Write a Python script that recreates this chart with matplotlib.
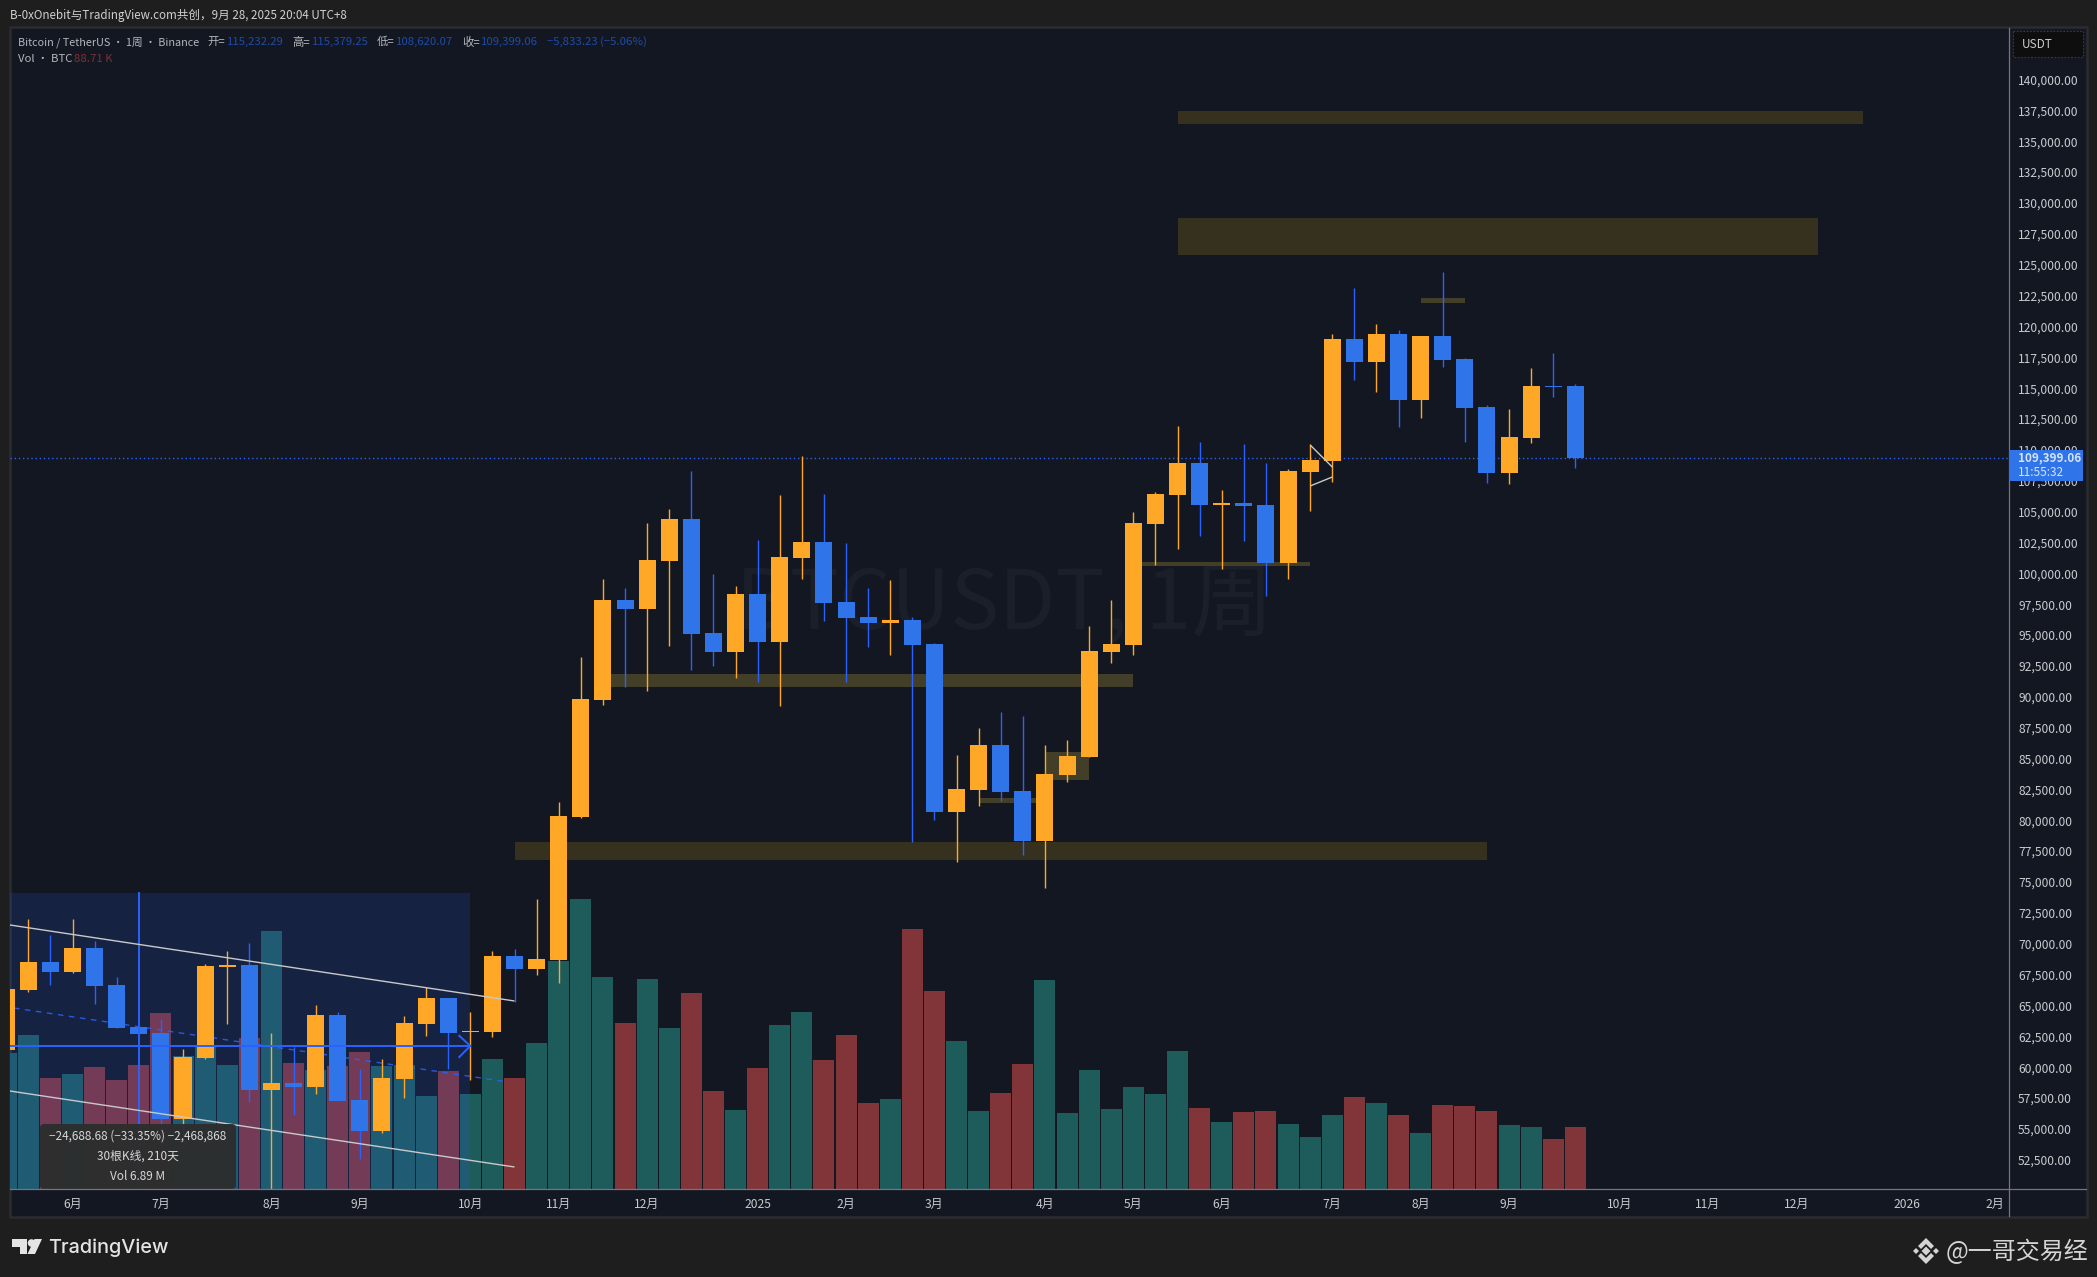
import matplotlib
matplotlib.use("Agg")
import matplotlib.pyplot as plt
from matplotlib.lines import Line2D
from matplotlib.patches import Rectangle, Polygon, Circle, FancyBboxPatch
from matplotlib.transforms import Affine2D, ScaledTranslation

FONT = ['Noto Sans CJK SC', 'DejaVu Sans']
plt.rcParams['font.family'] = FONT

# ---------- data ----------
opens = [61470, 66331, 68599, 67789, 69733, 66736, 63334, 62848, 55882, 60823, 68194, 68356,
         58231, 58798, 58474, 64306, 57421, 54910, 59122, 63577, 65683, 62929, 62929, 69085,
         68032, 68761, 80344, 89821, 97921, 97192, 101080, 104482, 95248, 93709, 98407, 94519,
         101323, 102619, 97759, 96544, 96058, 96301, 94357, 80749, 82531, 86176, 82450, 78400,
         83746, 85204, 93709, 94276, 104077, 106426, 109018, 105616, 105778, 105616, 100918,
         108289, 109180, 119062, 117199, 119467, 114121, 119305, 117442, 113554, 108208,
         111043, 115255, 115232.29]
highs = [66500, 72082, 70786, 72082, 70300, 67384, 63415, 63982, 61552, 68437, 69490, 70138,
         62848, 61714, 65116, 64549, 59932, 60742, 64225, 66574, 65683, 64549, 69490, 69652,
         73702, 81559, 93304, 99622, 98893, 104158, 105292, 108370, 100027, 99055, 102781,
         106426, 109585, 106507, 102538, 98893, 99541, 96544, 94438, 85366, 87553, 88849,
         88525, 86176, 86581, 95815, 97921, 105049, 106669, 112015, 110719, 106831, 110557,
         109018, 108532, 110557, 119467, 123193, 120277, 119791, 119305, 124489, 117523,
         113716, 113392, 116713, 117928, 115379.25]
lows = [61400, 66169, 66736, 67708, 65197, 63253, 62767, 53614, 53938, 60742, 63577, 57259,
        49000, 56206, 57907, 57340, 52642, 54748, 57583, 62605, 59932, 59041, 62524, 65359,
        67546, 66898, 80263, 89416, 90874, 90550, 94195, 92251, 92575, 91603, 91279, 89335,
        99622, 96220, 91279, 94114, 93466, 78319, 80101, 76699, 81235, 81640, 77266, 74593,
        83179, 85204, 92818, 93466, 100756, 102052, 103105, 100432, 102700, 98245, 99622,
        105130, 107479, 115741, 114769, 111934, 112663, 116794, 110719, 107398, 107317,
        110638, 114364, 108620.07]
closes = [66410, 68599, 67789, 69733, 66655, 63253, 62767, 55882, 60904, 68275, 68356, 58231,
          58798, 58474, 64306, 57340, 54910, 59203, 63658, 65683, 62848, 63010, 69085, 68032,
          68842, 80425, 89902, 97921, 97192, 101161, 104482, 95167, 93709, 98407, 94519, 101404,
          102619, 97678, 96463, 96058, 96301, 94276, 80749, 82612, 86176, 82369, 78400, 83827,
          85285, 93790, 94357, 104158, 106507, 109018, 105616, 105778, 105535, 100918, 108370,
          109261, 119062, 117199, 119467, 114121, 119305, 117361, 113473, 108208, 111124,
          115255, 115174, 109399.06]
volumes_k = [195, 220, 159, 165, 175, 156, 177, 252, 190, 203, 177, 216, 369, 180, 170, 176,
             196, 176, 177, 133, 169, 136, 186, 159, 209, 326, 415, 303, 238, 301, 230, 280,
             140, 113, 173, 235, 253, 185, 220, 123, 129, 372, 283, 212, 112, 137, 179, 299,
             109, 170, 114, 146, 136, 197, 116, 96, 110, 112, 93, 74, 106, 132, 123, 106, 80,
             120, 119, 112, 92, 89, 72, 88.71]
volume_up = [1, 1, 0, 1, 0, 0, 0, 0, 1, 1, 1, 0, 1, 0, 1, 0, 0, 1, 1, 1, 0, 1, 1, 0, 1, 1, 1, 1,
             0, 1, 1, 0, 0, 1, 0, 1, 1, 0, 0, 0, 1, 0, 0, 1, 1, 0, 0, 1, 1, 1, 1, 1, 1, 1, 0, 1,
             0, 0, 1, 1, 1, 0, 1, 0, 1, 0, 0, 0, 1, 1, 0, 0]

price_ticks = list(range(52500, 140001, 2500))
time_tick_idx = [3, 7, 12, 16, 21, 25, 29, 34, 38, 42, 47, 51, 55, 60, 64, 68, 73, 77, 81, 86, 90]
time_tick_lab = ['6月', '7月', '8月', '9月', '10月', '11月', '12月', '2025', '2月', '3月', '4月', '5月',
                 '6月', '7月', '8月', '9月', '10月', '11月', '12月', '2026', '2月']

# zones: start bar, end bar, upper price, lower price
zones_dark = [(53, 84, 137530, 136477), (53, 82, 128863, 125866), (23, 67, 78319, 76861)]
zones_light = [(64, 66, 122383, 121978), (51.35, 59, 100999, 100675), (27, 51, 91927, 90874),
               (44, 47, 81883, 81478), (47, 49, 85609, 83341)]
last_price = 109399.06
channel_upper = ([0.17, 23], [71596, 65440])
channel_lower = ([0.17, 23], [58150, 51994])
channel_mid = ([0.35, 22.7], [64873, 58879])
wedge_a = ([59, 60], [110476, 108694])
wedge_b = ([59, 60], [107155, 107884])

# ---------- style ----------
W, H = 2097, 1277
BG = '#131722'; OUTER = '#1E1E1E'; FRAME = '#2A2C2E'; AXLINE = '#73767E'
UP = '#FFA726'; DOWN = '#3074EA'; DOWN_WICK = '#2962FF'
VOL_UP = '#1E5C5C'; VOL_DOWN = '#813539'
ZONE_D = '#36301F'; ZONE_L = '#423E27'
LAB = '#C8CACE'; LBLUE = '#1E4BA8'

fig = plt.figure(figsize=(W / 100, H / 100), dpi=100, facecolor=OUTER)
px = Affine2D().scale(1 / W, -1 / H).translate(0, 1) + fig.transFigure

fig.add_artist(Rectangle((10, 27), 2077, 1190, transform=px, fc=BG, ec=FRAME, lw=1.8, zorder=0))

rect = [10 / W, 1 - 1189 / H, 1999 / W, 1161 / H]
ax_v = fig.add_axes(rect, zorder=1, facecolor=BG)
ax = fig.add_axes(rect, zorder=2, facecolor='none')

xlim = (0.172, 90.62)
ylim = (50212, 144253)

# volume pane
xs = list(range(len(opens)))
ax_v.bar(xs, volumes_k, width=0.95, color=[VOL_UP if u else VOL_DOWN for u in volume_up], linewidth=0)
ax_v.set_xlim(*xlim)
ax_v.set_ylim(0, 1661)
ax_v.axis('off')

# watermark
ax.text(1005, 605, 'BTCUSDT, 1周', transform=px, color='#1B1F2A', fontsize=59, ha='center', va='center', zorder=0.5)

# zones
for zs, col in ((zones_dark, ZONE_D), (zones_light, ZONE_L)):
    for a, b, hi, lo in zs:
        ax.add_patch(Rectangle((a, lo), b - a, hi - lo, fc=col, ec='none', zorder=1))

# measuring tool shade
ax.add_patch(Rectangle((-1, 40000), 22, 74188 - 40000, fc='#2962FF', alpha=0.15, ec='none', zorder=1.2))

# last price line
ax.axhline(last_price, color=DOWN_WICK, lw=1.0, ls=(0, (1, 2)), zorder=1.5)

# candles
for i, (o, h, l, c) in enumerate(zip(opens, highs, lows, closes)):
    up = c >= o
    ax.vlines(i, l, h, color=UP if up else DOWN_WICK, lw=1.0, zorder=3)
    ax.bar(i, abs(c - o), bottom=min(o, c), width=0.77, color=UP if up else DOWN, linewidth=0, zorder=3.2)

# drawings
for xy in (channel_upper, channel_lower, wedge_a, wedge_b):
    ax.plot(*xy, color='#C9C9C9', lw=1.0, zorder=4, solid_capstyle='butt')
ax.plot(*channel_mid, color=DOWN_WICK, lw=1.0, ls=(0, (4, 4)), zorder=2.5, alpha=0.85)
ax.plot([0.17, 21], [61800, 61800], color=DOWN_WICK, lw=1.4, zorder=3.5)
ax.plot([6, 6], [50212, 74188], color=DOWN_WICK, lw=1.4, zorder=3.5)
ax.plot([20.5, 21, 20.5], [62620, 61800, 60900], color=DOWN_WICK, lw=1.4, zorder=3.5)

ax.set_xlim(*xlim)
ax.set_ylim(*ylim)
for s in ax.spines.values():
    s.set_visible(False)
ax.yaxis.tick_right()
ax.set_yticks(price_ticks)
ax.set_yticklabels([f'{p:,.2f}' for p in price_ticks], fontsize=8.7, color=LAB)
ax.set_xticks(time_tick_idx)
ax.set_xticklabels(time_tick_lab, fontsize=8.7, color=LAB)
ax.tick_params(axis='y', length=0, pad=6.5)
ax.tick_params(axis='x', length=0, pad=6.5)
for lab in ax.get_yticklabels():
    lab.set_transform(lab.get_transform() + ScaledTranslation(0, 1 / 100, fig.dpi_scale_trans))

# tooltip
ax.add_patch(FancyBboxPatch((40, 1124), 196, 65, boxstyle='round,pad=0,rounding_size=4', transform=px,
                            fc='#2C2E2E', ec='none', alpha=0.96, zorder=6, clip_on=False))
for yy, s in ((1136, '−24,688.68 (−33.35%) −2,468,868'), (1156, '30根K线, 210天'), (1176, 'Vol 6.89 M')):
    ax.text(138, yy, s, transform=px, color='#D8D8D8', fontsize=8.5, ha='center', va='center', zorder=7)

# axis lines
fig.add_artist(Line2D([2009, 2009], [28, 1216], transform=px, color=AXLINE, lw=0.9, zorder=5))
fig.add_artist(Line2D([10, 2086], [1189, 1189], transform=px, color=AXLINE, lw=0.9, zorder=5))

# price box
fig.add_artist(Rectangle((2009, 450), 74, 31, transform=px, fc=DOWN, ec='none', zorder=10))
fig.text(2018, 457.5, '109,399.06', transform=px, color='#D6E4FF', fontsize=8.5, fontweight='bold', ha='left', va='center', zorder=11)
fig.text(2018, 472, '11:55:32', transform=px, color='#D6E4FF', fontsize=8.5, ha='left', va='center', zorder=11)

# currency box
fig.add_artist(Rectangle((2013, 31), 70, 26, transform=px, fc='#0E0E0E', ec='#3A3A3A', lw=0.8, ls=(0, (1.5, 1.5)), zorder=10))
fig.text(2022, 44.5, 'USDT', transform=px, color=LAB, fontsize=8.5, ha='left', va='center', zorder=11)

# header and legend
fig.text(10, 15, 'B-0xOnebit与TradingView.com共创，9月 28, 2025 20:04 UTC+8', transform=px,
         color='#D0D0D0', fontsize=8.35, ha='left', va='center')
LEG = '#B4B6BA'
fig.text(18, 42, 'Bitcoin / TetherUS · 1周 · Binance', transform=px, color=LEG, fontsize=7.8, ha='left', va='center')
for x0, s, col in ((207.5, '开=', LEG), (227, '115,232.29', LBLUE),
                   (292, '高=', LEG), (311.5, '115,379.25', LBLUE),
                   (377, '低=', LEG), (396, '108,620.07', LBLUE),
                   (462, '收=', LEG), (481, '109,399.06', LBLUE),
                   (547, '−5,833.23 (−5.06%)', LBLUE)):
    fig.text(x0, 42, s, transform=px, color=col, fontsize=8.2, ha='left', va='center')
fig.text(18, 59, 'Vol · BTC', transform=px, color=LEG, fontsize=8.2, ha='left', va='center')
fig.text(74, 59, '88.71 K', transform=px, color='#7F3034', fontsize=8.2, ha='left', va='center')

# TradingView logo
LOGO = '#E4E4E4'
fig.add_artist(Polygon([(12, 1239), (27, 1239), (27, 1254), (19.5, 1254), (19.5, 1246.5), (12, 1246.5)],
                       transform=px, fc=LOGO, ec='none', zorder=5))
fig.add_artist(Circle((31.5, 1243), 3.8, transform=px, fc=LOGO, ec='none', zorder=5))
fig.add_artist(Polygon([(34.5, 1239), (42, 1239), (35, 1254), (27.5, 1254)], transform=px, fc=LOGO, ec='none', zorder=5))
fig.text(48, 1248, 'TradingView', transform=px, family=['Inter', 'DejaVu Sans'], color=LOGO, fontsize=14.3,
         fontweight='medium', ha='left', va='center')

# Binance mark and author
MARK = '#D4D4D4'
for pts in ([(1926, 1246.5), (1930.5, 1251), (1926, 1255.5), (1921.5, 1251)],
            [(1916, 1248), (1919, 1251), (1916, 1254), (1913, 1251)],
            [(1936, 1248), (1939, 1251), (1936, 1254), (1933, 1251)],
            [(1926, 1238), (1934, 1246), (1931, 1249), (1926, 1244), (1921, 1249), (1918, 1246)],
            [(1926, 1264), (1934, 1256), (1931, 1253), (1926, 1258), (1921, 1253), (1918, 1256)]):
    fig.add_artist(Polygon(pts, transform=px, fc=MARK, ec='none', zorder=5))
fig.text(2088, 1252, '@一哥交易经', transform=px, color=MARK, fontsize=17.3, ha='right', va='center')

fig.savefig('out.png', dpi=100, facecolor=OUTER)
